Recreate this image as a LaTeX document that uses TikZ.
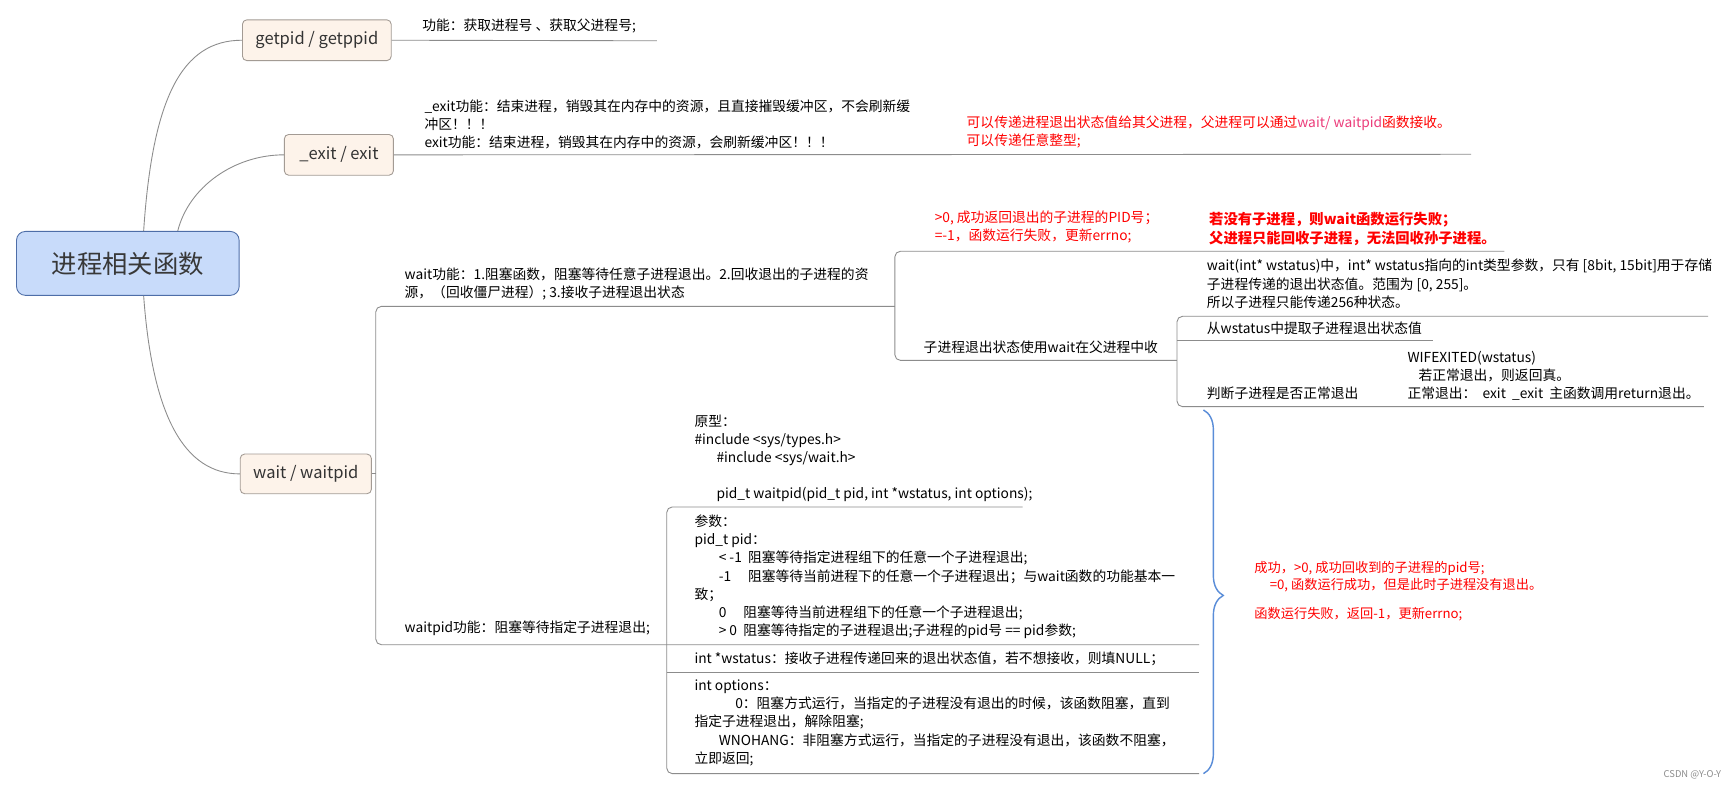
\documentclass[tikz,border=0pt]{standalone}
\usepackage{fontspec}
\setmainfont{Noto Sans CJK SC}
\usetikzlibrary{decorations.pathreplacing}

\definecolor{linegray}{HTML}{8C8C8C}
\definecolor{topicfill}{HTML}{FDF3EA}
\definecolor{topicdraw}{HTML}{A39B94}
\definecolor{rootfill}{HTML}{C8DBFA}
\definecolor{rootdraw}{HTML}{4E6EA8}
\definecolor{notered}{HTML}{FF0000}
\definecolor{notepink}{HTML}{EC3C7A}
\definecolor{braceblue}{HTML}{5A8DD8}

\tikzset{
  rootbox/.style={draw=rootdraw, fill=rootfill, rounded corners=8, line width=0.8pt,
    text=black!78, font=\fontsize{23}{26}\selectfont},
  topic/.style={draw=topicdraw, fill=topicfill, rounded corners=4, line width=0.8pt,
    text=black!80, font=\fontsize{15}{18}\selectfont},
  txt/.style={anchor=west, align=left, inner sep=0pt, font=\fontsize{12.5}{16.5}\selectfont},
  redtxt/.style={txt, text=notered},
  branch/.style={draw=linegray, line width=0.8pt},
}

\begin{document}
\begin{tikzpicture}[x=1pt,y=-1pt]
  \fill[white] (0,0) rectangle (1568,716);
  \useasboundingbox (0,0) rectangle (1568,716);

  % main topics
  \node[rootbox, minimum width=202, minimum height=58] (root) at (116,239) {进程相关函数};
  \node[topic, minimum width=135, minimum height=37] (getpid) at (287.5,36.5) {getpid / getppid};
  \node[topic, minimum width=99, minimum height=37] (exit) at (307.5,140.5) {\_exit / exit};
  \node[topic, minimum width=119, minimum height=36] (wait) at (277.5,430) {wait / waitpid};

  \draw[branch] (root.64) .. controls +(8,-120) and +(-55,0) .. (getpid.west);
  \draw[branch] (root.33) .. controls +(10,-40) and +(-45,0) .. (exit.west);
  \draw[branch] (root.-64) .. controls +(8,110) and +(-50,0) .. (wait.west);

  % getpid / getppid
  \node[txt] (getpidnote) at (383,24) {功能：获取进程号 、获取父进程号;};
  \coordinate (getpidend) at (596,37);
  \draw[branch] (getpid.east) -- (getpidend);

  % _exit / exit
  \node[txt] (exitnote) at (385,113) {\_exit功能：结束进程，销毁其在内存中的资源，且直接摧毁缓冲区，不会刷新缓\\
    冲区！！！\\
    exit功能：结束进程，销毁其在内存中的资源，会刷新缓冲区！！！};
  \node[redtxt] (exitred) at (877,120) {可以传递进程退出状态值给其父进程，父进程可以通过\textcolor{notepink}{wait/ waitpid}函数接收。\\
    可以传递任意整型;};
  \coordinate (exitend) at (1335,140);
  \draw[branch] (exit.east) -- (exitend);

  % wait / waitpid
  \coordinate (waitfork) at (341,430);
  \coordinate (waitend) at (812,278);
  \coordinate (waitpidend) at (1088,585);
  \draw[branch] (wait.east) -- (waitfork);
  \draw[branch, rounded corners=5] (waitend) -| (waitfork) |- (waitpidend);
  \node[txt] (waitnote) at (367,258) {wait功能：1.阻塞函数，阻塞等待任意子进程退出。2.回收退出的子进程的资\\
    源，（回收僵尸进程）; 3.接收子进程退出状态};
  \node[txt] (waitpidnote) at (367,570) {waitpid功能：阻塞等待指定子进程退出;};

  % wait: return value and status
  \coordinate (retend) at (1365,228);
  \coordinate (statusend) at (1068,327);
  \draw[branch, rounded corners=5] (retend) -| (waitend) |- (statusend);
  \node[redtxt] (retnote) at (848,206) {>0, 成功返回退出的子进程的PID号；\\
    =-1，函数运行失败，更新errno;};
  \node[redtxt, font=\bfseries\fontsize{13}{17}\selectfont] (failnote) at (1097,207.5) {若没有子进程，则wait函数运行失败；\\
    父进程只能回收子进程，无法回收孙子进程。};
  \node[txt] (statusnote) at (838,315) {子进程退出状态使用wait在父进程中收};

  \coordinate (rangeend) at (1550,287);
  \coordinate (getend) at (1300,309);
  \coordinate (normalend) at (1546,369);
  \draw[branch, rounded corners=5] (rangeend) -| (statusend) |- (normalend);
  \draw[branch] (statusend |- getend) -- (getend);
  \node[txt] (rangenote) at (1095,257.5) {wait(int* wstatus)中，int* wstatus指向的int类型参数，只有 [8bit, 15bit]用于存储\\
    子进程传递的退出状态值。范围为 [0, 255]。\\
    所以子进程只能传递256种状态。};
  \node[txt] (getnote) at (1095,298) {从wstatus中提取子进程退出状态值};
  \node[txt] (normalnote) at (1095,357) {判断子进程是否正常退出};
  \node[txt] (wifnote) at (1277,341) {WIFEXITED(wstatus)\\
    \hspace*{10pt}若正常退出，则返回真。\\
    正常退出：\ \ exit \ \_exit \ 主函数调用return退出。};

  % waitpid parameters
  \coordinate (protoend) at (928,460);
  \coordinate (paramfork) at (605,585);
  \coordinate (wstatusend) at (1088,610);
  \coordinate (optionsend) at (1088,702);
  \draw[branch, rounded corners=5] (protoend) -| (paramfork) |- (optionsend);
  \draw[branch] (paramfork |- wstatusend) -- (wstatusend);
  \node[txt] (protonote) at (630,416) {原型：\\
    \#include <sys/types.h>\\
    \hspace*{20pt}\#include <sys/wait.h>\\
    \mbox{}\\
    \hspace*{20pt}pid\_t waitpid(pid\_t pid, int *wstatus, int options);};
  \node[txt] (paramnote) at (630,523.5) {参数：\\
    pid\_t pid：\\
    \hspace*{22pt}< -1 \ 阻塞等待指定进程组下的任意一个子进程退出;\\
    \hspace*{22pt}-1 \quad 阻塞等待当前进程下的任意一个子进程退出；与wait函数的功能基本一\\
    致；\\
    \hspace*{22pt}0 \quad 阻塞等待当前进程组下的任意一个子进程退出;\\
    \hspace*{22pt}> 0 \ 阻塞等待指定的子进程退出;子进程的pid号 == pid参数;};
  \node[txt] (wstatusnote) at (630,598) {int *wstatus：接收子进程传递回来的退出状态值，若不想接收，则填NULL；};
  \node[txt] (optionsnote) at (630,656) {int options：\\
    \hspace*{37pt}0：阻塞方式运行，当指定的子进程没有退出的时候，该函数阻塞，直到\\
    指定子进程退出，解除阻塞;\\
    \hspace*{22pt}WNOHANG：非阻塞方式运行，当指定的子进程没有退出，该函数不阻塞，\\
    立即返回;};

  % return values of waitpid
  \coordinate (bracetop) at (1092,372);
  \coordinate (bracebot) at (1092,702);
  \draw[braceblue, line width=1.3pt, decorate, decoration={brace, amplitude=18pt, aspect=0.51}] (bracetop) -- (bracebot);
  \node[redtxt, font=\fontsize{12}{15}\selectfont] (oknote) at (1138,523.5) {成功，>0, 成功回收到的子进程的pid号;\\
    \hspace*{14pt}=0, 函数运行成功，但是此时子进程没有退出。};
  \node[redtxt, font=\fontsize{12}{15}\selectfont] (errnote) at (1138,557) {函数运行失败，返回-1，更新errno;};

  \node[anchor=east, inner sep=0pt, text=black!45, font=\fontsize{8.5}{10}\selectfont] (mark) at (1562,703) {CSDN @Y-O-Y};
\end{tikzpicture}
\end{document}
